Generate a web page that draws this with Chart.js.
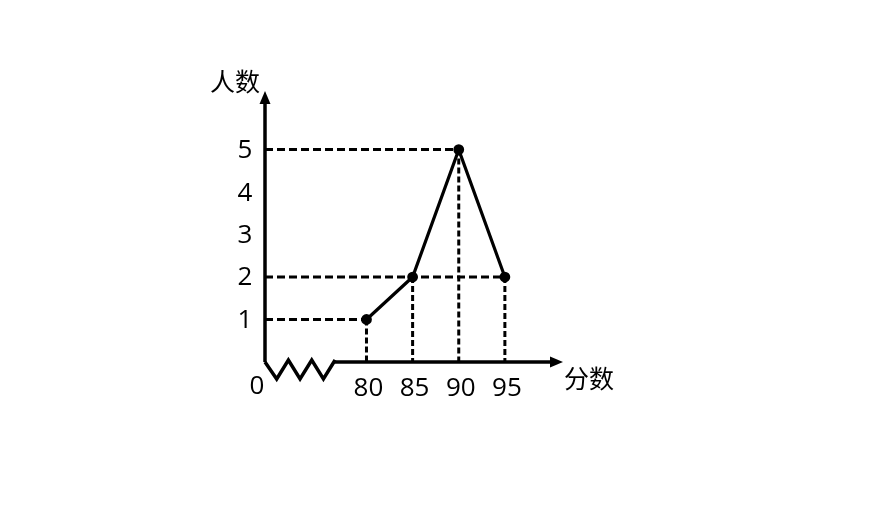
<!DOCTYPE html>
<html>
<head>
<meta charset="utf-8">
<script src="https://cdn.jsdelivr.net/npm/chart.js@4"></script>
<style>
  html, body { margin: 0; padding: 0; background: #fff; }
  #wrap { width: 875px; height: 507px; position: relative; }
</style>
</head>
<body>
<div id="wrap"><canvas id="chart"></canvas></div>
<script>
// scores (x) and how many students got each (y)
const scores = [80, 85, 90, 95];
const counts = [1, 2, 5, 2];
const xTicks = ["80", "85", "90", "95"];
const yTicks = ["1", "2", "3", "4", "5"];
const xTitle = "分数";
const yTitle = "人数";

// axis window: the left end sits before the zig-zag break, both ends carry arrows
const X_MIN = 69;
const X_MAX = 101.3;
const Y_MIN = 0;
const Y_MAX = 6.38;
const BREAK_END = 76.6; // where the zig-zag rejoins the x axis

const INK = "#000";
const DIGIT_FONT = "26px 'Open Sans', 'Liberation Sans', sans-serif";
const CJK_FONT = "25px 'Noto Sans CJK SC', sans-serif";

const points = scores.map((s, i) => ({ x: s, y: counts[i] }));

function dashed(data, dash) {
  return {
    data,
    showLine: true,
    borderColor: INK,
    borderWidth: 3,
    borderDash: dash,
    borderCapStyle: "butt",
    pointRadius: 0,
    clip: false,
    order: 2,
  };
}

/** Dashed guides: one horizontal per distinct count (to the farthest point at that height), one vertical per point. */
function guideDatasets() {
  const sets = [];
  const farthest = {};
  points.forEach((p) => {
    farthest[p.y] = Math.max(farthest[p.y] || -Infinity, p.x);
  });
  Object.keys(farthest).forEach((y) => {
    sets.push(dashed([{ x: X_MIN, y: +y }, { x: farthest[y], y: +y }], [8, 4]));
  });
  points.forEach((p) => sets.push(dashed([{ x: p.x, y: p.y }, { x: p.x, y: Y_MIN }], [6, 3])));
  return sets;
}

// Draws the hand-style axes: arrows, zig-zag break, tick labels and titles.
const axesPlugin = {
  id: "axes",
  afterDatasetsDraw(chart) {
    const { ctx, scales } = chart;
    const xs = scales.x;
    const ys = scales.y;
    const ox = xs.getPixelForValue(X_MIN);
    const oy = ys.getPixelForValue(Y_MIN);
    const top = ys.getPixelForValue(Y_MAX);
    const right = xs.getPixelForValue(X_MAX);
    const bx = xs.getPixelForValue(BREAK_END);

    ctx.save();
    ctx.strokeStyle = INK;
    ctx.fillStyle = INK;
    ctx.lineWidth = 3.5;
    ctx.lineJoin = "miter";
    ctx.setLineDash([]);

    // y axis
    ctx.beginPath();
    ctx.moveTo(ox, oy);
    ctx.lineTo(ox, top + 8);
    ctx.stroke();
    ctx.beginPath();
    ctx.moveTo(ox, top);
    ctx.lineTo(ox - 5.5, top + 13);
    ctx.lineTo(ox + 5.5, top + 13);
    ctx.closePath();
    ctx.fill();

    // zig-zag break, three teeth
    const teeth = 3;
    const step = (bx - ox) / (teeth * 2);
    ctx.beginPath();
    ctx.moveTo(ox, oy);
    for (let i = 0; i < teeth * 2; i++) {
      ctx.lineTo(ox + step * (i + 1), i % 2 === 0 ? oy + 17 : oy - 2);
    }
    ctx.stroke();

    // x axis
    ctx.beginPath();
    ctx.moveTo(bx - 1, oy);
    ctx.lineTo(right - 8, oy);
    ctx.stroke();
    ctx.beginPath();
    ctx.moveTo(right, oy);
    ctx.lineTo(right - 13, oy - 5.5);
    ctx.lineTo(right - 13, oy + 5.5);
    ctx.closePath();
    ctx.fill();

    // tick labels
    ctx.font = DIGIT_FONT;
    ctx.textBaseline = "middle";
    ctx.textAlign = "center";
    xTicks.forEach((t) => ctx.fillText(t, xs.getPixelForValue(+t) + 2, oy + 27));
    yTicks.forEach((t) => ctx.fillText(t, ox - 20, ys.getPixelForValue(+t) + 1));
    ctx.fillText("0", ox - 8, oy + 25);

    // axis titles
    ctx.font = CJK_FONT;
    ctx.fillText(yTitle, ox - 30, top - 10);
    ctx.fillText(xTitle, right + 26, oy + 16);
    ctx.restore();
  },
};

new Chart(document.getElementById("chart"), {
  type: "scatter",
  data: {
    datasets: [
      {
        data: points,
        showLine: true,
        borderColor: INK,
        borderWidth: 3.2,
        backgroundColor: INK,
        pointRadius: 3.8,
        pointHoverRadius: 3.8,
        clip: false,
        order: 1,
      },
      ...guideDatasets(),
    ],
  },
  options: {
    responsive: true,
    maintainAspectRatio: false,
    animation: false,
    layout: { padding: { left: 265, right: 312, top: 91, bottom: 145 } },
    scales: {
      x: { type: "linear", min: X_MIN, max: X_MAX, display: false },
      y: { type: "linear", min: Y_MIN, max: Y_MAX, display: false },
    },
    plugins: { legend: { display: false }, tooltip: { enabled: false } },
  },
  plugins: [axesPlugin],
});
</script>
</body>
</html>
